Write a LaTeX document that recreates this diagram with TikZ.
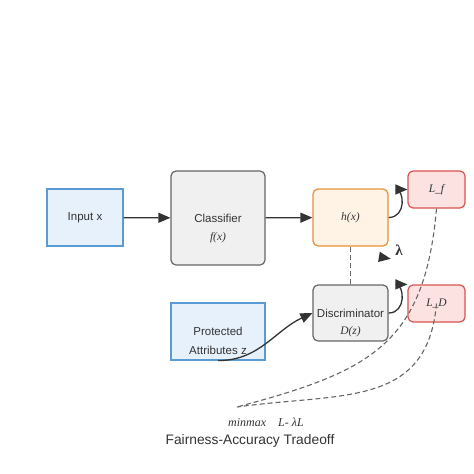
\documentclass[tikz,border=0pt]{standalone}
\usepackage{fontspec}
\setmainfont{Liberation Serif}
\setsansfont{Liberation Sans}
\usetikzlibrary{positioning, arrows.meta}

\definecolor{txtgray}{HTML}{333333}
\definecolor{bluefill}{HTML}{E7F1FC}
\definecolor{blueline}{HTML}{5B9BD5}
\definecolor{grayfill}{HTML}{F0F0F0}
\definecolor{grayline}{HTML}{666666}
\definecolor{orangefill}{HTML}{FFF3E6}
\definecolor{orangeline}{HTML}{E69138}
\definecolor{redfill}{HTML}{FDE2E2}
\definecolor{redline}{HTML}{D9534F}

\tikzset{
  inbox/.style={rectangle, draw=blueline, fill=bluefill, line width=1.2pt},
  modbox/.style={rectangle, rounded corners=5pt, draw=grayline, fill=grayfill, line width=1.2pt},
  hbox/.style={rectangle, rounded corners=5pt, draw=orangeline, fill=orangefill, line width=1.2pt},
  lossbox/.style={rectangle, rounded corners=5pt, draw=redline, fill=redfill, line width=1.2pt, minimum width=57pt, minimum height=37pt},
  mathlbl/.style={font=\rmfamily\itshape\fontsize{11.5}{13}\selectfont},
  flow/.style={draw=txtgray, line width=1.3pt, -{Triangle[length=12pt, width=10pt]}},
  link/.style={draw=grayline, line width=1.1pt, dashed, dash pattern=on 5pt off 3pt}
}

\begin{document}
\begin{tikzpicture}[x=1pt, y=-1pt, text=txtgray, font=\sffamily\fontsize{11.5}{13}\selectfont]
  \useasboundingbox (0,0) rectangle (474,474);

  % boxes
  \node[inbox, minimum width=76pt, minimum height=57pt] (input) at (85,217.5) {Input x};
  \node[modbox, minimum width=94pt, minimum height=94pt] (clf) at (218,218) {};
  \node (clftxt) at (clf.center) {Classifier};
  \node[mathlbl] (fx) at ([yshift=-20pt]clf.center) {f(x)};
  \node[hbox, minimum width=75pt, minimum height=57pt] (hx) at (350.5,217.5) {};
  \node[mathlbl] (hxtxt) at (hx.center) {h(x)};
  \node[lossbox] (lf) at (436.5,189.5) {};
  \node[mathlbl] (lftxt) at (lf.center) {L\_f};

  \node[inbox, minimum width=94pt, minimum height=57pt] (prot) at (218,331.5) {};
  \node (prottxt) at (prot.center) {Protected};
  \node (attrtxt) at ([yshift=-19pt]prot.center) {Attributes z};
  \node[modbox, minimum width=75pt, minimum height=56pt] (disc) at (350.5,313) {};
  \node (disctxt) at (disc.center) {Discriminator};
  \node[mathlbl] (dz) at ([yshift=-19pt]disc.center) {D(z)};
  \node[lossbox] (ld) at (436.5,303.5) {};
  \node[mathlbl] (ldtxt) at (ld.center) {L\_D};

  \node[font=\rmfamily\bfseries\fontsize{15}{15}\selectfont] (lam) at (399,250) {λ};
  \coordinate (lamtail) at (380,257);
  \coordinate (trade) at (237,407);

  % connectors
  \draw[flow] (input) -- (clf);
  \draw[flow] (clf) -- (hx);
  \draw[flow] (hx.east) to[out=0, in=180, out distance=18pt, in distance=3pt] (lf.west);
  \draw[flow] (disc.east) to[out=0, in=180, out distance=18pt, in distance=3pt] (ld.north west);
  \draw[flow] (prot.south) to[out=0, in=205] (disc.west);
  \draw[flow] (lamtail) -- ([xshift=-1pt]lam.south west);
  \draw[link] (hx) -- (disc);
  \draw[link] (lf.south) to[out=-95, in=15, looseness=1.25] (trade);
  \draw[link] (ld.center) to[out=-95, in=8, looseness=1.2] (trade);

  % tradeoff text
  \node[font=\rmfamily\itshape\fontsize{12}{14}\selectfont] (obj) at (266,422) {minmax\quad L- λL};
  \node[font=\sffamily\fontsize{13.8}{16}\selectfont] (tradetxt) at (250,441) {Fairness-Accuracy Tradeoff};
\end{tikzpicture}
\end{document}
